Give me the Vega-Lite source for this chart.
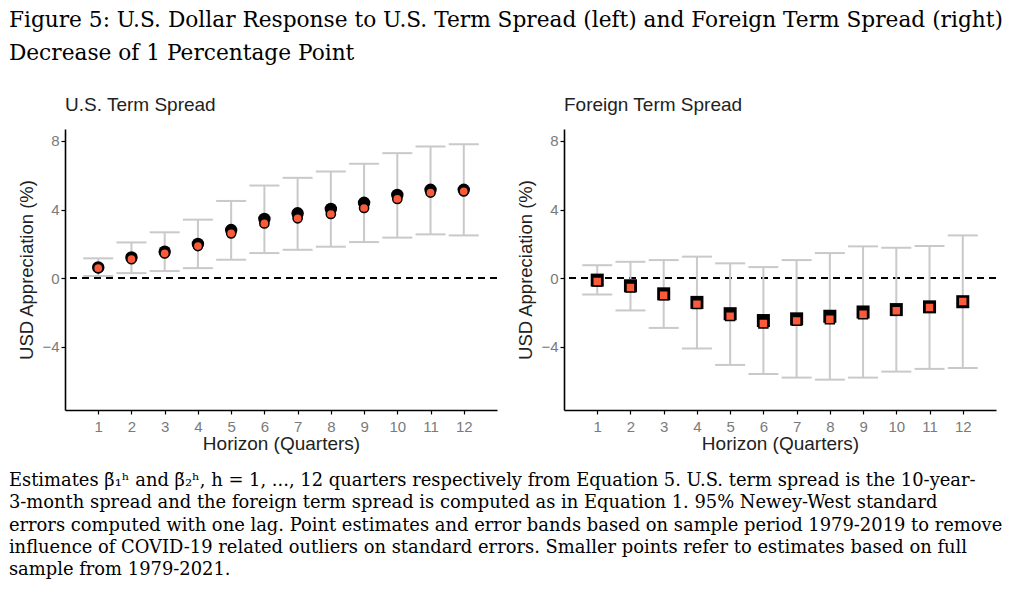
{
  "$schema": "https://vega.github.io/schema/vega-lite/v6.json",
  "background": "white",
  "padding": {"left": 8, "top": 10, "right": 5, "bottom": 5},
  "datasets": {
    "us": [
      {"h": 1, "est": 0.62, "full": 0.58, "lo": 0.12, "hi": 1.15},
      {"h": 2, "est": 1.2, "full": 1.1, "lo": 0.29, "hi": 2.08},
      {"h": 3, "est": 1.54, "full": 1.44, "lo": 0.41, "hi": 2.67},
      {"h": 4, "est": 1.99, "full": 1.87, "lo": 0.58, "hi": 3.41},
      {"h": 5, "est": 2.8, "full": 2.61, "lo": 1.07, "hi": 4.5},
      {"h": 6, "est": 3.45, "full": 3.19, "lo": 1.46, "hi": 5.4},
      {"h": 7, "est": 3.78, "full": 3.49, "lo": 1.65, "hi": 5.85},
      {"h": 8, "est": 4.03, "full": 3.74, "lo": 1.83, "hi": 6.22},
      {"h": 9, "est": 4.39, "full": 4.09, "lo": 2.1, "hi": 6.67},
      {"h": 10, "est": 4.85, "full": 4.62, "lo": 2.36, "hi": 7.29},
      {"h": 11, "est": 5.15, "full": 4.99, "lo": 2.55, "hi": 7.68},
      {"h": 12, "est": 5.15, "full": 5.06, "lo": 2.49, "hi": 7.81}
    ],
    "foreign": [
      {"h": 1, "est": -0.12, "full": -0.2, "lo": -0.96, "hi": 0.75},
      {"h": 2, "est": -0.45, "full": -0.55, "lo": -1.89, "hi": 0.95},
      {"h": 3, "est": -0.92, "full": -1.0, "lo": -2.91, "hi": 1.05},
      {"h": 4, "est": -1.42, "full": -1.52, "lo": -4.11, "hi": 1.25},
      {"h": 5, "est": -2.08, "full": -2.22, "lo": -5.07, "hi": 0.86},
      {"h": 6, "est": -2.48, "full": -2.65, "lo": -5.6, "hi": 0.64},
      {"h": 7, "est": -2.38, "full": -2.5, "lo": -5.81, "hi": 1.05},
      {"h": 8, "est": -2.23, "full": -2.4, "lo": -5.93, "hi": 1.46},
      {"h": 9, "est": -1.98, "full": -2.11, "lo": -5.81, "hi": 1.85},
      {"h": 10, "est": -1.84, "full": -1.91, "lo": -5.46, "hi": 1.77},
      {"h": 11, "est": -1.68, "full": -1.72, "lo": -5.3, "hi": 1.87},
      {"h": 12, "est": -1.38, "full": -1.37, "lo": -5.25, "hi": 2.49}
    ]
  },
  "title": {
    "text": ["Figure 5: U.S. Dollar Response to U.S. Term Spread (left) and Foreign Term Spread (right)", "Decrease of 1 Percentage Point"],
    "font": "DejaVu Serif",
    "fontSize": 21.7,
    "fontWeight": "normal",
    "color": "black",
    "anchor": "start",
    "frame": "bounds",
    "lineHeight": 33,
    "offset": 31
  },
  "vconcat": [
    {
      "title": {
        "text": [
          "Estimates β̃₁ʰ and β̃₂ʰ, h = 1, ..., 12 quarters respectively from Equation 5. U.S. term spread is the 10-year-",
          "3-month spread and the foreign term spread is computed as in Equation 1.  95% Newey-West standard",
          "errors computed with one lag. Point estimates and error bands based on sample period 1979-2019 to remove",
          "influence of COVID-19 related outliers on standard errors. Smaller points refer to estimates based on full",
          "sample from 1979-2021."
        ],
        "orient": "bottom",
        "anchor": "start",
        "frame": "bounds",
        "font": "DejaVu Serif",
        "fontSize": 17.9,
        "fontWeight": "normal",
        "color": "black",
        "lineHeight": 22.3,
        "offset": 19,
        "dx": -9
      },
      "spacing": 18,
      "hconcat": [
        {
          "width": 432,
          "height": 281,
          "title": {"text": "U.S. Term Spread", "anchor": "start", "frame": "group", "font": "Liberation Sans", "fontSize": 19, "fontWeight": "normal", "color": "#222222", "offset": 14},
          "data": {"name": "us"},
          "encoding": {
            "x": {"field": "h", "type": "quantitative", "scale": {"domain": [0, 13], "nice": false, "zero": false},
                  "axis": {"values": [1,2,3,4,5,6,7,8,9,10,11,12], "title": "Horizon (Quarters)", "labelFontSize": 15, "titleFontSize": 19, "titlePadding": 0, "labelPadding": 5}}
          },
          "layer": [
            {"mark": {"type": "rule", "color": "black", "strokeDash": [7, 5], "strokeWidth": 1.6},
             "encoding": {"y": {"datum": 0, "type": "quantitative", "title": "USD Appreciation (%)", "scale": {"domain": [-7.7, 8.7], "nice": false, "zero": false}, "axis": {"values": [-4, 0, 4, 8], "titleFontSize": 18.5, "labelFontSize": 15, "titlePadding": 5}}, "x": null}},
            {"mark": {"type": "rule", "color": "#c9c9c9", "strokeWidth": 2},
             "encoding": {"y": {"field": "lo", "type": "quantitative", "title": "USD Appreciation (%)"}, "y2": {"field": "hi"}}},
            {"mark": {"type": "tick", "orient": "horizontal", "color": "#c9c9c9", "thickness": 2, "size": 30, "opacity": 1},
             "encoding": {"y": {"field": "lo", "type": "quantitative", "title": "USD Appreciation (%)"}}},
            {"mark": {"type": "tick", "orient": "horizontal", "color": "#c9c9c9", "thickness": 2, "size": 30, "opacity": 1},
             "encoding": {"y": {"field": "hi", "type": "quantitative", "title": "USD Appreciation (%)"}}},
            {"mark": {"type": "point", "shape": "circle", "filled": true, "color": "black", "size": 155, "opacity": 1},
             "encoding": {"y": {"field": "est", "type": "quantitative", "title": "USD Appreciation (%)"}}},
            {"mark": {"type": "point", "shape": "circle", "filled": true, "fill": "#fb5b3b", "stroke": "black", "strokeWidth": 1.5, "size": 85, "opacity": 1},
             "encoding": {"y": {"field": "full", "type": "quantitative", "title": "USD Appreciation (%)"}}}
          ]
        },
        {
          "width": 432,
          "height": 281,
          "title": {"text": "Foreign Term Spread", "anchor": "start", "frame": "group", "font": "Liberation Sans", "fontSize": 19, "fontWeight": "normal", "color": "#222222", "offset": 14},
          "data": {"name": "foreign"},
          "encoding": {
            "x": {"field": "h", "type": "quantitative", "scale": {"domain": [0, 13], "nice": false, "zero": false},
                  "axis": {"values": [1,2,3,4,5,6,7,8,9,10,11,12], "title": "Horizon (Quarters)", "labelFontSize": 15, "titleFontSize": 19, "titlePadding": 0, "labelPadding": 5}}
          },
          "layer": [
            {"mark": {"type": "rule", "color": "black", "strokeDash": [7, 5], "strokeWidth": 1.6},
             "encoding": {"y": {"datum": 0, "type": "quantitative", "title": "USD Appreciation (%)", "scale": {"domain": [-7.7, 8.7], "nice": false, "zero": false}, "axis": {"values": [-4, 0, 4, 8], "titleFontSize": 18.5, "labelFontSize": 15, "titlePadding": 5}}, "x": null}},
            {"mark": {"type": "rule", "color": "#c9c9c9", "strokeWidth": 2},
             "encoding": {"y": {"field": "lo", "type": "quantitative", "title": "USD Appreciation (%)"}, "y2": {"field": "hi"}}},
            {"mark": {"type": "tick", "orient": "horizontal", "color": "#c9c9c9", "thickness": 2, "size": 30, "opacity": 1},
             "encoding": {"y": {"field": "lo", "type": "quantitative", "title": "USD Appreciation (%)"}}},
            {"mark": {"type": "tick", "orient": "horizontal", "color": "#c9c9c9", "thickness": 2, "size": 30, "opacity": 1},
             "encoding": {"y": {"field": "hi", "type": "quantitative", "title": "USD Appreciation (%)"}}},
            {"mark": {"type": "point", "shape": "square", "filled": true, "color": "black", "size": 170, "opacity": 1},
             "encoding": {"y": {"field": "est", "type": "quantitative", "title": "USD Appreciation (%)"}}},
            {"mark": {"type": "point", "shape": "square", "filled": true, "fill": "#fb5b3b", "stroke": "black", "strokeWidth": 1.5, "size": 80, "opacity": 1},
             "encoding": {"y": {"field": "full", "type": "quantitative", "title": "USD Appreciation (%)"}}}
          ]
        }
      ]
    }
  ],
  "config": {
    "view": {"stroke": null},
    "font": "Liberation Sans",
    "axis": {
      "grid": false,
      "domainColor": "black",
      "domainWidth": 1.6,
      "tickColor": "black",
      "tickWidth": 1.2,
      "tickSize": 4,
      "labelColor": "#7a7a7a",
      "labelFont": "Liberation Sans",
      "titleFont": "Liberation Sans",
      "titleFontWeight": "normal",
      "titleColor": "#222222"
    }
  }
}
